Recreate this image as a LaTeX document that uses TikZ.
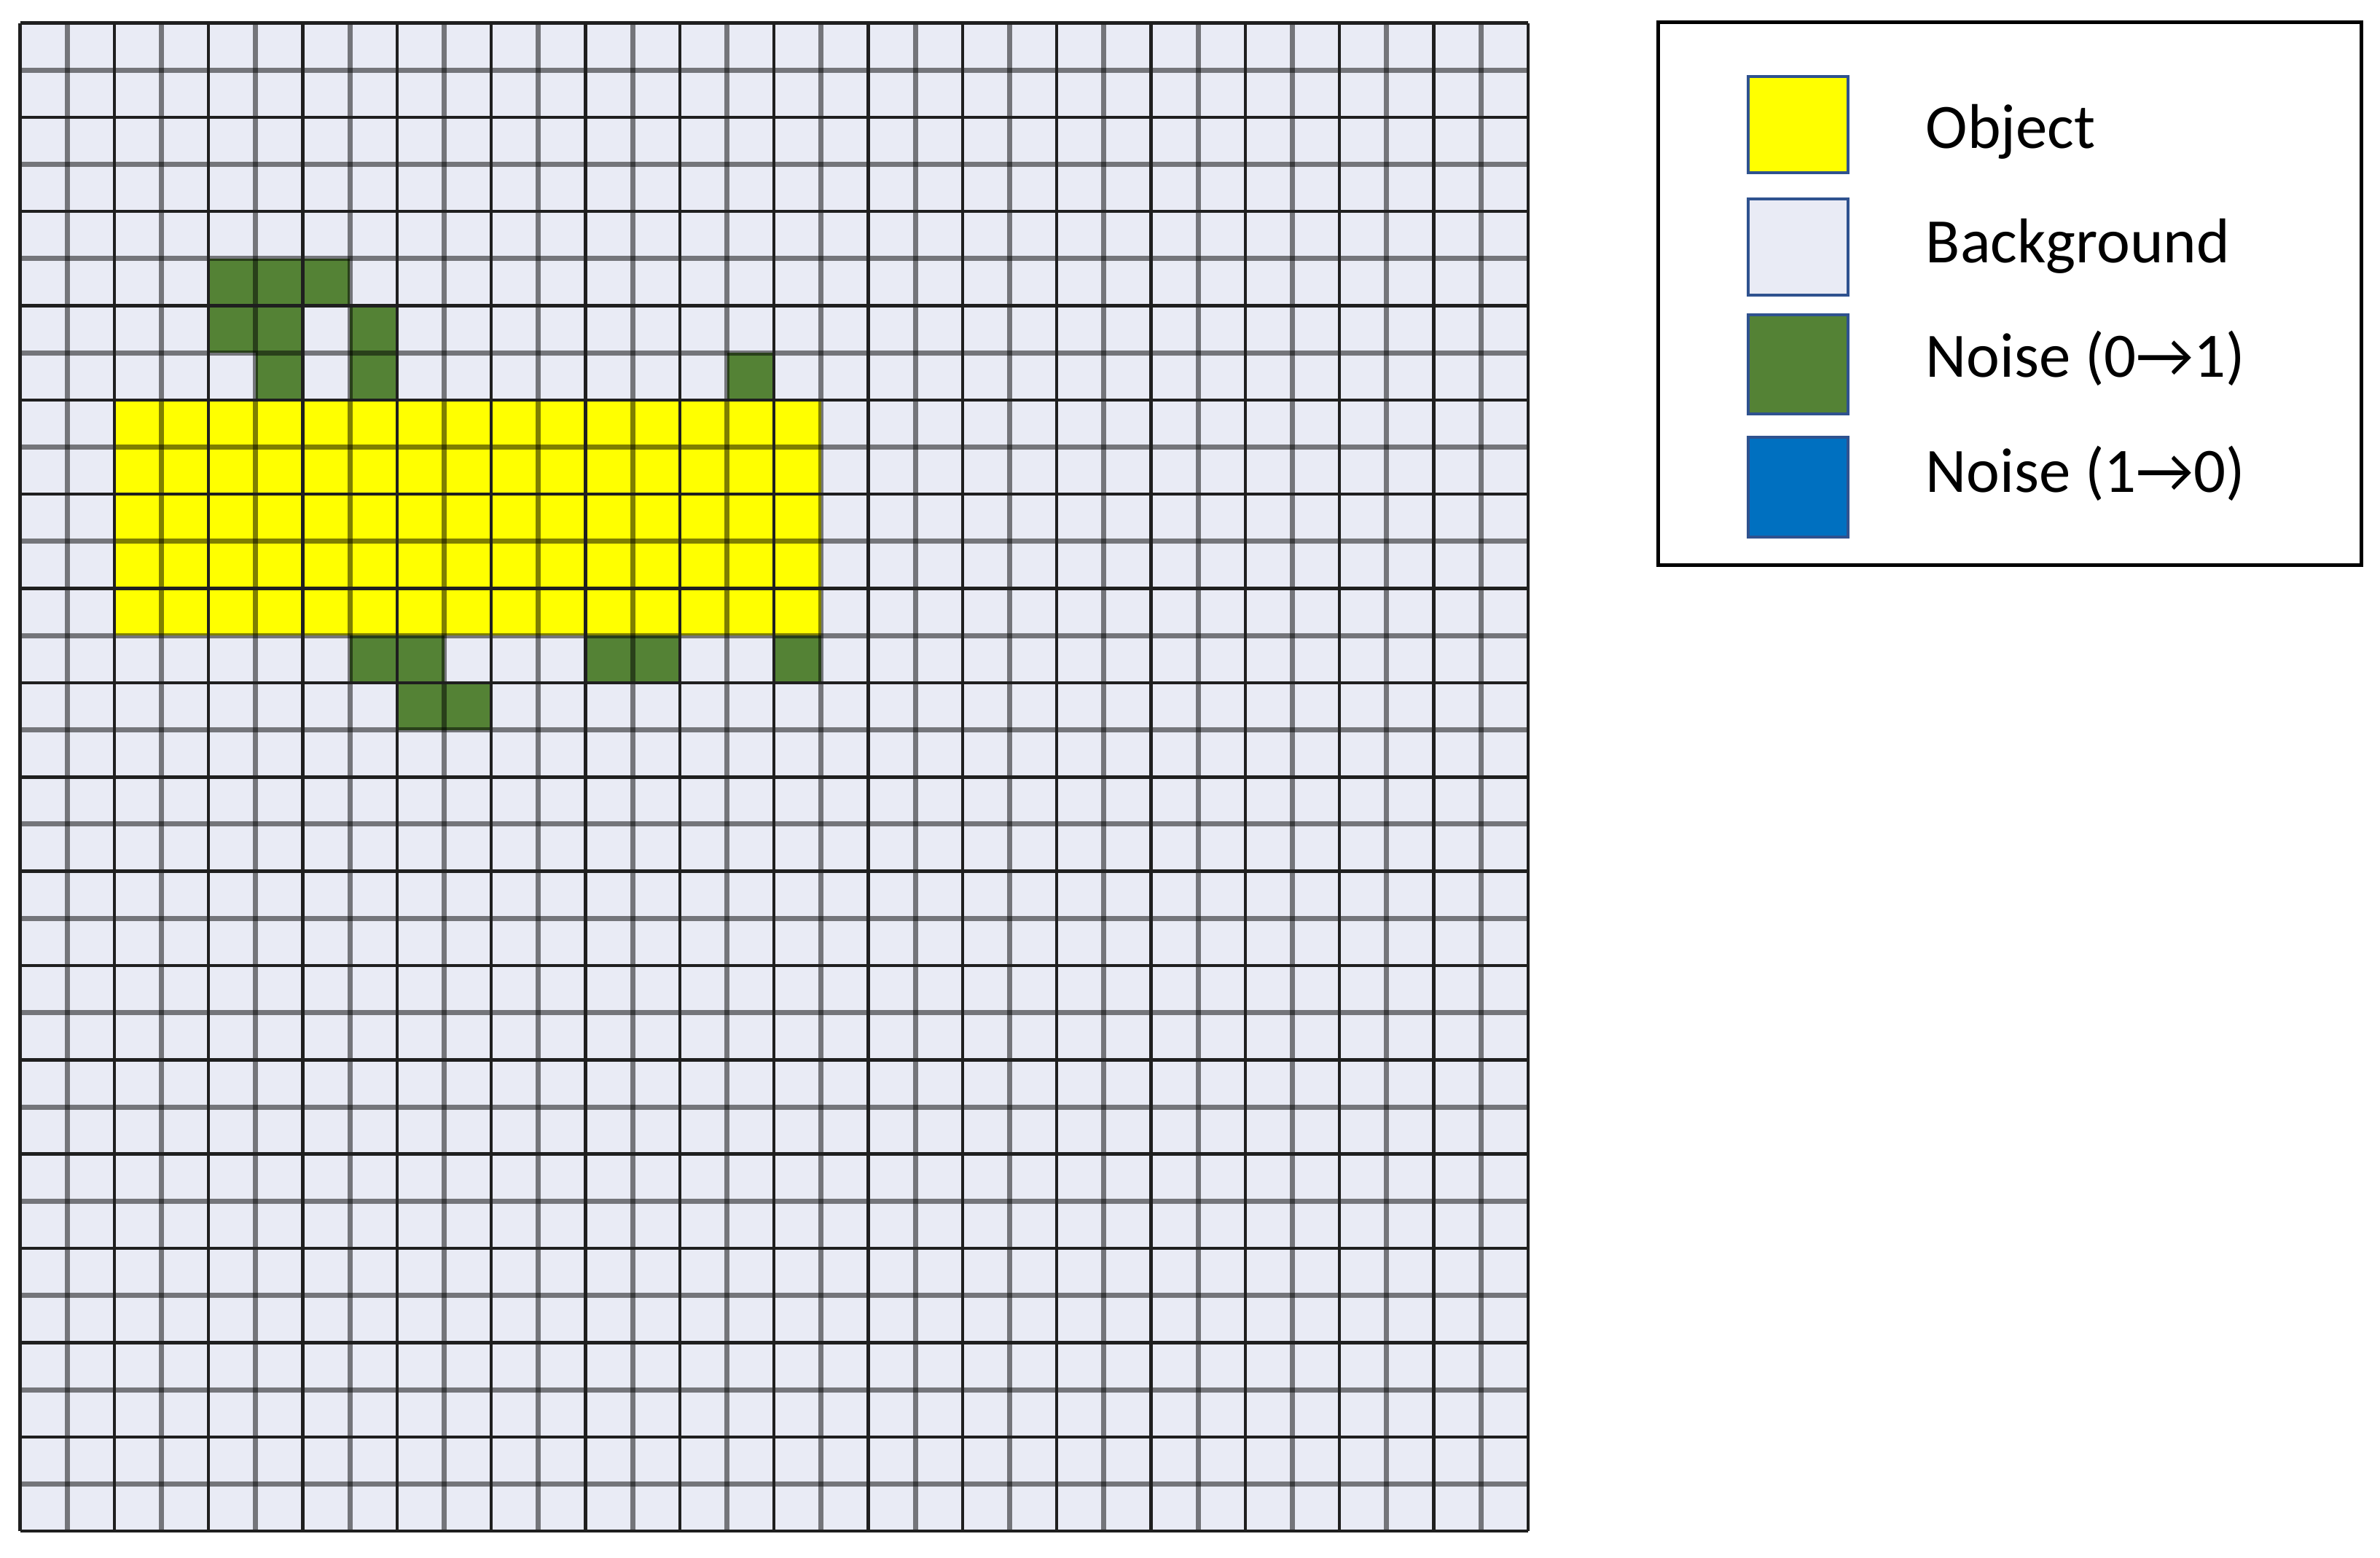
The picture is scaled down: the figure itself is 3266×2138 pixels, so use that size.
\documentclass[tikz,border=0pt]{standalone}
\usepackage{fontspec}
\setmainfont{Carlito}
\definecolor{bgc}{HTML}{E9EBF5}
\definecolor{objc}{HTML}{FFFF00}
\definecolor{noiseA}{HTML}{548235}
\definecolor{noiseB}{HTML}{0070C0}
\definecolor{swb}{HTML}{2F528F}
\begin{document}
\begin{tikzpicture}[x=0.25pt,y=-0.25pt,
  evenline/.style={line width=1.1pt,black!88},
  oddline/.style={line width=1.75pt,black,opacity=0.5},
  swatch/.style={draw=swb,line width=1pt},
  legtext/.style={anchor=base west,inner sep=0pt,font=\fontsize{21.7}{26}\selectfont}]
\useasboundingbox (0,0) rectangle (3266,2138);
\def\gx{27.5}\def\gy{31.6}\def\cs{64.67}
% grid background and cells
\fill[bgc] (\gx,\gy) rectangle ({\gx+32*\cs},{\gy+32*\cs});
\fill[objc] ({\gx+2*\cs},{\gy+8*\cs}) rectangle ({\gx+17*\cs},{\gy+13*\cs});
\foreach \c/\r in {4/5,5/5,6/5,4/6,5/6,7/6,5/7,7/7,15/7,7/13,8/13,12/13,13/13,16/13,8/14,9/14}
  \fill[noiseA] ({\gx+\c*\cs},{\gy+\r*\cs}) rectangle ({\gx+(\c+1)*\cs},{\gy+(\r+1)*\cs});
% grid lines
\foreach \i in {1,3,...,31} {
  \draw[oddline] ({\gx+\i*\cs},\gy) -- ({\gx+\i*\cs},{\gy+32*\cs});
  \draw[oddline] (\gx,{\gy+\i*\cs}) -- ({\gx+32*\cs},{\gy+\i*\cs});
}
\foreach \i in {0,2,...,32} {
  \draw[evenline] ({\gx+\i*\cs},\gy) -- ({\gx+\i*\cs},{\gy+32*\cs});
  \draw[evenline] (\gx,{\gy+\i*\cs}) -- ({\gx+32*\cs},{\gy+\i*\cs});
}
% legend
\draw[line width=1.25pt,black] (2275,31) rectangle (3240,776);
\draw[swatch,fill=objc] (2399,105) rectangle (2536,237);
\draw[swatch,fill=bgc] (2399,273) rectangle (2536,405);
\draw[swatch,fill=noiseA] (2399,432) rectangle (2536,568);
\draw[swatch,fill=noiseB] (2399,600) rectangle (2536,737);
\node[legtext] (tobj) at (2642,204) {Object};
\node[legtext] (tbg) at (2642,361) {Background};
\node[legtext] (tn1) at (2642,518) {Noise (0→1)};
\node[legtext] (tn2) at (2642,676) {Noise (1→0)};
\end{tikzpicture}
\end{document}
